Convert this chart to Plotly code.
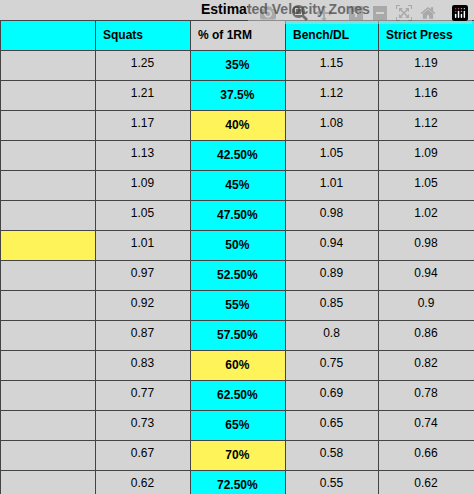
import plotly.graph_objects as go

squats = ["1.25","1.21","1.17","1.13","1.09","1.05","1.01","0.97","0.92","0.87","0.83","0.77","0.73","0.67","0.62","0.57","0.53","0.5","0.44","0.4","0.37","0.345","0.32","0.3"]
pct = ["35%","37.5%","40%","42.50%","45%","47.50%","50%","52.50%","55%","57.50%","60%","62.50%","65%","70%","72.50%","75%","77.50%","80%","85%","90%","92.50%","95%","97.50%","100%"]
bench = ["1.15","1.12","1.08","1.05","1.01","0.98","0.94","0.89","0.85","0.8","0.75","0.69","0.65","0.58","0.55","0.5","0.45","0.4","0.35","0.32","0.3","0.28","0.26","0.24"]
press = ["1.19","1.16","1.12","1.09","1.05","1.02","0.98","0.94","0.9","0.86","0.82","0.78","0.74","0.66","0.62","0.58","0.54","0.5","0.43","0.35","0.31","0.27","0.23","0.19"]
headers = ["", "Squats", "% of 1RM", "Bench/DL", "Strict Press"]
title = "Estimated Velocity Zones"
highlight_pct = ["40%", "60%", "70%"]
highlight_row = "50%"

GREY = "#d4d4d4"; CYAN = "#00ffff"; YEL = "#fff35a"
n = len(pct)
colA_fill = [YEL if p == highlight_row else GREY for p in pct]
colC_fill = [YEL if p in highlight_pct else CYAN for p in pct]

fig = go.Figure(go.Table(
    columnwidth=[95, 95, 95, 93, 96],
    header=dict(values=["<b>%s</b>" % h for h in headers],
                fill_color=[CYAN, CYAN, GREY, CYAN, CYAN],
                align="left", height=20,
                line=dict(color="#444", width=1),
                font=dict(family="Liberation Sans", size=12, color="black")),
    cells=dict(values=[[""] * n, squats, ["<b>%s</b>" % p for p in pct], bench, press],
               fill_color=[colA_fill, [GREY] * n, colC_fill, [GREY] * n, [GREY] * n],
               align="center", height=18.9,
               line=dict(color="#444", width=1),
               font=dict(family="Liberation Sans", size=12, color="black")),
    domain=dict(x=[0, 1], y=[0, 1])))
fig.add_annotation(text="<b>%s</b>" % title, x=285, xref="x", y=1, yref="paper",
                   yanchor="bottom", yshift=1, showarrow=False,
                   font=dict(family="Liberation Sans", size=14, color="black"))
fig.update_xaxes(range=[0, 474], visible=False)
fig.update_yaxes(visible=False)
fig.update_layout(width=474, height=494, margin=dict(l=0, r=0, t=20, b=0),
                  paper_bgcolor=GREY, plot_bgcolor=GREY)
fig.write_html("out.html", post_script="document.body.style.margin='0';document.body.style.background='#d4d4d4';")
